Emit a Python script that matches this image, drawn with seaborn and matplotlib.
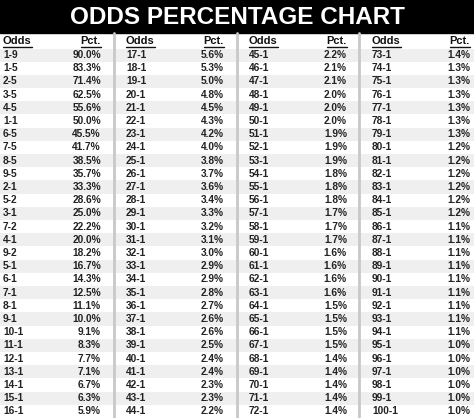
import matplotlib
matplotlib.use("Agg")
import matplotlib.pyplot as plt
import seaborn as sns

title = "ODDS PERCENTAGE CHART"
headers = ["Odds", "Pct."]

odds_1 = ["1-9", "1-5", "2-5", "3-5", "4-5", "1-1", "6-5", "7-5", "8-5", "9-5", "2-1", "5-2",
          "3-1", "7-2", "4-1", "9-2", "5-1", "6-1", "7-1", "8-1", "9-1", "10-1", "11-1", "12-1",
          "13-1", "14-1", "15-1", "16-1"]
pct_1 = [90.0, 83.3, 71.4, 62.5, 55.6, 50.0, 45.5, 41.7, 38.5, 35.7, 33.3, 28.6,
         25.0, 22.2, 20.0, 18.2, 16.7, 14.3, 12.5, 11.1, 10.0, 9.1, 8.3, 7.7,
         7.1, 6.7, 6.3, 5.9]
odds_2 = [f"{n}-1" for n in range(17, 45)]
pct_2 = [5.6, 5.3, 5.0, 4.8, 4.5, 4.3, 4.2, 4.0, 3.8, 3.7, 3.6, 3.4,
         3.3, 3.2, 3.1, 3.0, 2.9, 2.9, 2.8, 2.7, 2.6, 2.6, 2.5, 2.4,
         2.4, 2.3, 2.3, 2.2]
odds_3 = [f"{n}-1" for n in range(45, 73)]
pct_3 = [2.2, 2.1, 2.1, 2.0, 2.0, 2.0, 1.9, 1.9, 1.9, 1.8, 1.8, 1.8,
         1.7, 1.7, 1.7, 1.6, 1.6, 1.6, 1.6, 1.5, 1.5, 1.5, 1.5, 1.4,
         1.4, 1.4, 1.4, 1.4]
odds_4 = [f"{n}-1" for n in range(73, 101)]
pct_4 = [1.4, 1.3, 1.3, 1.3, 1.3, 1.3, 1.3, 1.2, 1.2, 1.2, 1.2, 1.2,
         1.2, 1.1, 1.1, 1.1, 1.1, 1.1, 1.1, 1.1, 1.1, 1.1, 1.0, 1.0,
         1.0, 1.0, 1.0, 1.0]

groups = [(odds_1, pct_1), (odds_2, pct_2), (odds_3, pct_3), (odds_4, pct_4)]

sns.set_theme(style="white")
plt.rcParams['font.family'] = ['Liberation Sans', 'DejaVu Sans']

W, H = 474, 418
fig = plt.figure(figsize=(W / 100, H / 100), dpi=100)
ax = fig.add_axes([0, 0, 1, 1])
ax.set_xlim(0, W)
ax.set_ylim(H, 0)
ax.axis("off")

# title band
ax.axhspan(0, 33, color="black")
ax.text(W / 2, 17, title, color="white", ha="center", va="center",
        fontsize=17.5, fontweight="bold")

top = 48.5
row_h = (H - top) / 28
# stripes
for i in range(28):
    if i % 2 == 0:
        ax.axhspan(top + i * row_h, top + (i + 1) * row_h, color="#efefef", lw=0)

odds_x = [3, 126, 249, 372]
pct_x = [101, 224, 347, 470]
sep_x = [114, 237, 359]
for x in sep_x:
    ax.plot([x, x], [33, H], color="#c8c8c8", lw=2)

fig.canvas.draw()
rend = fig.canvas.get_renderer()
inv = ax.transData.inverted()
fs = 7.3
for g, (odds, pct) in enumerate(groups):
    hy = 41.5
    for txt, x, ha in [(headers[0], odds_x[g], "left"), (headers[1], pct_x[g], "right")]:
        t = ax.text(x, hy, txt, ha=ha, va="center", fontsize=fs + 0.7, fontweight="bold", color="#111111")
        bb = t.get_window_extent(rend)
        (x0, _), (x1, _) = inv.transform([(bb.x0, 0), (bb.x1, 0)])
        ax.plot([x0, x1], [hy + 5.5, hy + 5.5], color="#111111", lw=1)
    for i, (o, p) in enumerate(zip(odds, pct)):
        y = top + (i + 0.5) * row_h
        ax.text(odds_x[g], y, o, ha="left", va="center", fontsize=fs, fontweight="bold", color="#222222")
        ax.text(pct_x[g], y, f"{p:.1f}%", ha="right", va="center", fontsize=fs, fontweight="bold", color="#222222")

fig.savefig("out.png", dpi=100)
